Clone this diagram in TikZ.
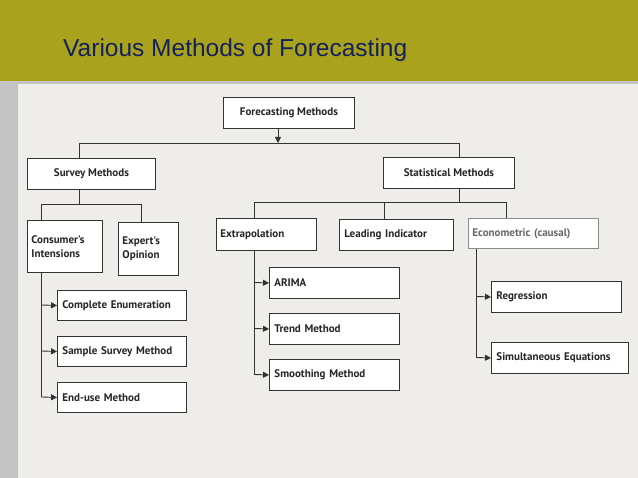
\documentclass[tikz,border=0pt]{standalone}
\usepackage{fontspec}
\setmainfont{Liberation Sans}
\newfontfamily\boxfont{PT Sans}
\usetikzlibrary{arrows.meta}
\definecolor{olive}{HTML}{A9A21C}
\definecolor{bg}{HTML}{EEEDE9}
\definecolor{strip}{HTML}{C4C4C4}
\definecolor{navy}{HTML}{14215A}
\definecolor{ln}{HTML}{333333}
\begin{document}
\begin{tikzpicture}[x=1pt,y=-1pt,
  box/.style={draw=ln,line width=0.9pt,fill=white,anchor=north west,inner sep=0pt,font=\boxfont\bfseries\fontsize{11}{14}\selectfont,text=black!85},
  conn/.style={draw=ln,line width=0.9pt},
  arr/.style={conn,-{Triangle[length=6pt,width=6pt]}}]
\useasboundingbox (0,0) rectangle (638,478);
\fill[strip] (0,0) rectangle (638,478);
\fill[bg] (18,84) rectangle (638,478);
\fill[olive] (0,0) rectangle (638,81);
\node[anchor=base west,text=navy,font=\fontsize{24.5}{28}\selectfont,inner sep=0pt] (title) at (63,57) {Various Methods of Forecasting};
\node[box,minimum width=131,minimum height=31,align=center] (fm) at (223,97) {Forecasting Methods};
\node[box,minimum width=128,minimum height=31,align=center] (sm) at (27,158) {Survey Methods};
\node[box,minimum width=131,minimum height=31,align=center] (stm) at (383,157) {Statistical Methods};
\node[box,minimum width=75,minimum height=52,text width=67,align=left] (ci) at (27,220) {Consumer's\\Intensions};
\node[box,minimum width=60,minimum height=53,text width=52,align=left] (eo) at (118,222) {Expert's\\Opinion};
\node[box,minimum width=100,minimum height=32,text width=92,align=left] (ex) at (216,218) {Extrapolation};
\node[box,minimum width=114,minimum height=31,text width=104,align=left] (li) at (339,219) {Leading Indicator};
\node[box,draw=black!45,text=black!60,minimum width=130,minimum height=30,text width=122,align=left] (ec) at (468,218) {Econometric (causal)};
\node[box,minimum width=129,minimum height=30,text width=119,align=left] (ce) at (57,290) {Complete Enumeration};
\node[box,minimum width=129,minimum height=30,text width=119,align=left] (ss) at (57,336) {Sample Survey Method};
\node[box,minimum width=129,minimum height=30,text width=119,align=left] (eu) at (57,382) {End-use Method};
\node[box,minimum width=130,minimum height=31,text width=120,align=left] (ar) at (269,267) {ARIMA};
\node[box,minimum width=130,minimum height=31,text width=120,align=left] (tm) at (269,313) {Trend Method};
\node[box,minimum width=130,minimum height=31,text width=120,align=left] (smo) at (269,359) {Smoothing Method};
\node[box,minimum width=130,minimum height=31,text width=120,align=left] (rg) at (491,281) {Regression};
\node[box,minimum width=137,minimum height=31,text width=127,align=left] (se) at (491,342) {Simultaneous Equations};
\coordinate (j1) at (278,143);
\draw[arr] (fm.south -| j1) -- (j1);
\draw[conn] (79,143) -- (459,143);
\draw[conn] (79,143) -- (sm.north -| 79,0);
\draw[conn] (459,143) -- (stm.north -| 459,0);
\draw[conn] (sm.south -| 79,0) -- (79,204);
\draw[conn] (41,220) |- (141,204) -- (eo.north -| 141,0);
\draw[conn] (stm.south -| 459,0) -- (459,202);
\draw[conn] (ex.north -| 254,0) |- (506,202) -- (ec.north -| 506,0);
\draw[conn] (384,202) -- (li.north -| 384,0);
\draw[conn] (ci.south -| 41,0) -- (41,397);
\draw[arr] (41,305) -- (ce.west);
\draw[arr] (41,351) -- (ss.west);
\draw[arr] (41,397) -- (eu.west);
\draw[conn] (ex.south -| 254,0) -- (254,374.5);
\draw[arr] (254,282.5) -- (ar.west);
\draw[arr] (254,328.5) -- (tm.west);
\draw[arr] (254,374.5) -- (smo.west);
\draw[conn] (ec.south -| 476,0) -- (476,357.5);
\draw[arr] (476,296.5) -- (rg.west);
\draw[arr] (476,357.5) -- (se.west);
\end{tikzpicture}
\end{document}
